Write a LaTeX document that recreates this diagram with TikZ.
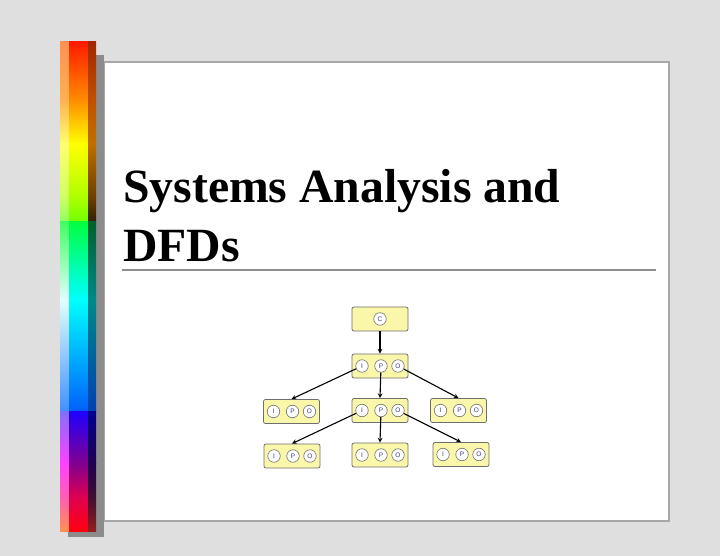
\documentclass[tikz,border=0pt]{standalone}
\usepackage{fontspec}
\setmainfont{Liberation Serif}
\setsansfont{Liberation Sans}
\definecolor{slidebg}{HTML}{DFDFDF}
\definecolor{slideedge}{HTML}{A8A8A8}
\definecolor{barshadow}{HTML}{8C8C8C}
\definecolor{ruleline}{HTML}{8E8E8E}
\definecolor{boxfill}{HTML}{FAF7AA}
\definecolor{boxedge}{HTML}{6E6E6E}
\definecolor{portink}{HTML}{3A3A80}
% colour bar: left (light), middle (full), right (dark) strip
\definecolor{barl0}{HTML}{FF9050}\definecolor{barm0}{HTML}{FF1A00}\definecolor{barr0}{HTML}{A02800}
\definecolor{barl1}{HTML}{FFB050}\definecolor{barm1}{HTML}{FF8A00}\definecolor{barr1}{HTML}{C05000}
\definecolor{barl2}{HTML}{FFFF70}\definecolor{barm2}{HTML}{FFFF00}\definecolor{barr2}{HTML}{C07000}
\definecolor{barl3}{HTML}{D0FF60}\definecolor{barm3}{HTML}{B0FF00}\definecolor{barr3}{HTML}{704000}
\definecolor{barl4}{HTML}{90FF60}\definecolor{barm4}{HTML}{70FF00}\definecolor{barr4}{HTML}{302000}
\definecolor{barl5}{HTML}{40FF60}\definecolor{barm5}{HTML}{00FF40}\definecolor{barr5}{HTML}{006030}
\definecolor{barl6}{HTML}{E0FFFF}\definecolor{barm6}{HTML}{00FFFF}\definecolor{barr6}{HTML}{008888}
\definecolor{barl7}{HTML}{4090FF}\definecolor{barm7}{HTML}{0060FF}\definecolor{barr7}{HTML}{0040B0}
\definecolor{barl8}{HTML}{8070FF}\definecolor{barm8}{HTML}{2000FF}\definecolor{barr8}{HTML}{000090}
\definecolor{barl9}{HTML}{FF40FF}\definecolor{barm9}{HTML}{800090}\definecolor{barr9}{HTML}{200050}
\definecolor{barl10}{HTML}{FF60B0}\definecolor{barm10}{HTML}{E00050}\definecolor{barr10}{HTML}{401030}
\definecolor{barl11}{HTML}{FF9050}\definecolor{barm11}{HTML}{FF0010}\definecolor{barr11}{HTML}{902020}
\begin{document}
\begin{tikzpicture}[x=1pt,y=-1pt,
   ipobox/.style={draw=boxedge,fill=boxfill,line width=0.8pt,rounded corners=2pt,
      minimum width=56pt,minimum height=24pt,inner sep=0pt},
   port/.style={circle,draw=boxedge,fill=white,line width=0.6pt,minimum size=12.5pt,
      inner sep=0pt,font=\sffamily\fontsize{6.5}{7}\selectfont,text=portink},
   flow/.style={->,>=stealth,line width=1.1pt}]
   % Slide background
   \fill[slidebg] (0,0) rectangle (720,556);
   \useasboundingbox (0,0) rectangle (720,556);
   \filldraw[fill=white,draw=slideedge,line width=1.5pt] (104,62) rectangle (669,521);
   % Colour bar with its shadow
   \fill[barshadow] (68,55) rectangle (104,537);
   \foreach \ya/\yb/\i/\j in {42/99/0/1,99/144/1/2,144/196/2/3,196/222/3/4,
         222/300/5/6,300/411/6/7,411/463/8/9,463/498/9/10,498/531/10/11} {
      \shade[top color=barl\i,bottom color=barl\j] (60,\ya) rectangle (69,\yb);
      \shade[top color=barm\i,bottom color=barm\j] (69,\ya) rectangle (88,\yb);
      \shade[top color=barr\i,bottom color=barr\j] (88,\ya) rectangle (96,\yb);
   }
   % Title
   \node[anchor=base west,inner sep=0pt,font=\bfseries\fontsize{47.7}{52}\selectfont]
      (title1) at (123,203) {Systems Analysis and};
   \node[anchor=base west,inner sep=0pt,font=\bfseries\fontsize{47.7}{52}\selectfont]
      (title2) at (123,261) {DFDs};
   \draw[ruleline,line width=1.5pt] (122,270) -- (656,270);
   % Boxes
   \node[ipobox] (ctx) at (380,319) {};
   \node[port] (ctx-c) at (ctx.center) {C};
   \node[ipobox] (top) at (380,366) {};
   \node[ipobox] (ml) at (291.5,411.5) {};
   \node[ipobox] (mc) at (380,410.5) {};
   \node[ipobox] (mr) at (458.5,410.5) {};
   \node[ipobox] (bl) at (292,456) {};
   \node[ipobox] (bc) at (380,455) {};
   \node[ipobox] (br) at (461,454.5) {};
   \foreach \b in {top,ml,mc,mr,bl,bc,br} {
      \node[port] (\b-i) at ([xshift=-18pt]\b.center) {I};
      \node[port] (\b-p) at ([xshift=1pt]\b.center) {P};
      \node[port] (\b-o) at ([xshift=18pt]\b.center) {O};
   }
   % Flows
   \draw[flow] (ctx) -- (top);
   \draw[flow] (top-i) -- (ml.north);
   \draw[flow] (top-p) -- (mc.north);
   \draw[flow] (top-o) -- (mr.north);
   \draw[flow] (mc-i) -- (bl.north);
   \draw[flow] (mc-p) -- (bc.north);
   \draw[flow] (mc-o) -- (br.north);
\end{tikzpicture}
\end{document}
